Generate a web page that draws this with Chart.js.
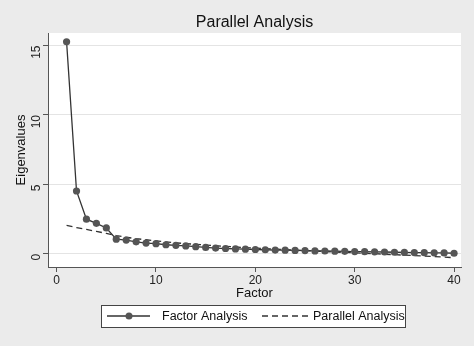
<!DOCTYPE html>
<html>
<head>
<meta charset="utf-8">
<script src="https://cdn.jsdelivr.net/npm/chart.js@4"></script>
<style>
  html, body { margin: 0; padding: 0; background: #ebebeb; }
  #wrap { width: 474px; height: 346px; }
</style>
</head>
<body>
<div id="wrap"><canvas id="paChart" width="474" height="346"></canvas></div>
<script>
// Data
const factors = [];
for (let i = 1; i <= 40; i++) factors.push(i);
const factorEigen = [15.27, 4.53, 2.5, 2.2, 1.87, 1.06, 1.0, 0.87, 0.78, 0.74,
    0.66, 0.62, 0.58, 0.52, 0.47, 0.42, 0.39, 0.36, 0.34, 0.32,
    0.3, 0.28, 0.27, 0.25, 0.24, 0.22, 0.21, 0.2, 0.19, 0.17,
    0.16, 0.15, 0.14, 0.12, 0.11, 0.1, 0.09, 0.08, 0.07, 0.05];
const parallelEigen = [2.05, 1.9, 1.76, 1.62, 1.48, 1.32, 1.2, 1.1, 1.02, 0.94,
    0.87, 0.8, 0.74, 0.69, 0.64, 0.59, 0.55, 0.5, 0.46, 0.42,
    0.38, 0.34, 0.31, 0.27, 0.24, 0.2, 0.17, 0.14, 0.11, 0.08,
    0.05, 0.02, -0.02, -0.05, -0.09, -0.12, -0.16, -0.19, -0.23, -0.27];
const xTicks = [0, 10, 20, 30, 40];
const yTicks = [0, 5, 10, 15];

const fontFam = '"Liberation Sans", Arial, sans-serif';

// white plot region, title and boxed legend
const stataLook = {
    id: 'stataLook',
    beforeDraw(chart) {
        const { ctx, chartArea: a } = chart;
        ctx.save();
        ctx.fillStyle = '#ffffff';
        ctx.fillRect(a.left, a.top, a.right - a.left, a.bottom - a.top);
        ctx.restore();
    },
    afterDraw(chart) {
        const { ctx, chartArea: a } = chart;
        ctx.save();
        ctx.fillStyle = '#111';
        ctx.font = '16px ' + fontFam;
        ctx.textAlign = 'center';
        ctx.textBaseline = 'middle';
        ctx.fillText('Parallel Analysis', (a.left + a.right) / 2, 23);

        // legend box
        const bx = 101, by = 305, bw = 304, bh = 22, cy = by + bh / 2;
        ctx.fillStyle = '#ffffff';
        ctx.fillRect(bx, by, bw, bh);
        ctx.strokeStyle = '#444';
        ctx.lineWidth = 1;
        ctx.strokeRect(bx + 0.5, by + 0.5, bw, bh);

        const ds0 = chart.data.datasets[0], ds1 = chart.data.datasets[1];
        ctx.strokeStyle = ds0.borderColor;
        ctx.lineWidth = ds0.borderWidth;
        ctx.beginPath(); ctx.moveTo(107, cy); ctx.lineTo(150, cy); ctx.stroke();
        ctx.fillStyle = ds0.pointBackgroundColor;
        ctx.beginPath(); ctx.arc(129, cy, 3.5, 0, Math.PI * 2); ctx.fill();

        ctx.strokeStyle = ds1.borderColor;
        ctx.lineWidth = ds1.borderWidth;
        ctx.setLineDash(ds1.borderDash);
        ctx.beginPath(); ctx.moveTo(262, cy); ctx.lineTo(308, cy); ctx.stroke();
        ctx.setLineDash([]);

        ctx.fillStyle = '#111';
        ctx.font = '12.5px ' + fontFam;
        ctx.textAlign = 'left';
        ctx.fillText(ds0.label, 162, cy + 1);
        ctx.fillText(ds1.label, 313, cy + 1);
        ctx.restore();
    }
};

const ctx = document.getElementById('paChart').getContext('2d');
const paChart = new Chart(ctx, {
    type: 'line',
    data: {
        labels: factors,
        datasets: [
            {
                label: 'Factor Analysis',
                data: factors.map((f, i) => ({ x: f, y: factorEigen[i] })),
                borderColor: '#333333',
                borderWidth: 1.3,
                pointBackgroundColor: '#555555',
                pointBorderColor: '#555555',
                pointRadius: 3.6,
                pointBorderWidth: 0,
                tension: 0
            },
            {
                label: 'Parallel Analysis',
                data: factors.map((f, i) => ({ x: f, y: parallelEigen[i] })),
                borderColor: '#333333',
                borderWidth: 1.3,
                borderDash: [6, 4],
                pointRadius: 0,
                tension: 0
            }
        ]
    },
    plugins: [stataLook],
    options: {
        responsive: false,
        animation: false,
        devicePixelRatio: 1,
        layout: { padding: { left: 0, right: 13, top: 33, bottom: 45 } },
        plugins: {
            legend: { display: false },
            title: { display: false },
            tooltip: { enabled: false }
        },
        scales: {
            x: {
                type: 'linear',
                min: -0.87,
                max: 40.7,
                afterBuildTicks: s => { s.ticks = xTicks.map(v => ({ value: v })); },
                afterFit: s => { s.height = 34; },
                grid: { drawOnChartArea: false, tickLength: 5, color: '#555' },
                border: { color: '#555', width: 1 },
                ticks: { color: '#222', font: { family: fontFam, size: 12 }, padding: 1, maxRotation: 0 },
                title: { display: true, text: 'Factor', color: '#111', font: { family: fontFam, size: 13 }, padding: { top: -3, bottom: 0 } }
            },
            y: {
                min: -0.94,
                max: 15.9,
                afterBuildTicks: s => { s.ticks = yTicks.map(v => ({ value: v })); },
                afterFit: s => { s.width = 48; },
                grid: { color: '#e4e4e4', tickLength: 5, tickColor: '#555', lineWidth: 1 },
                border: { color: '#555', width: 1 },
                ticks: { color: '#222', font: { family: fontFam, size: 12 }, padding: 6, minRotation: 90, maxRotation: 90 },
                title: { display: true, text: 'Eigenvalues', color: '#111', font: { family: fontFam, size: 13 }, padding: { top: 14, bottom: 0 } }
            }
        }
    }
});
</script>
</body>
</html>
